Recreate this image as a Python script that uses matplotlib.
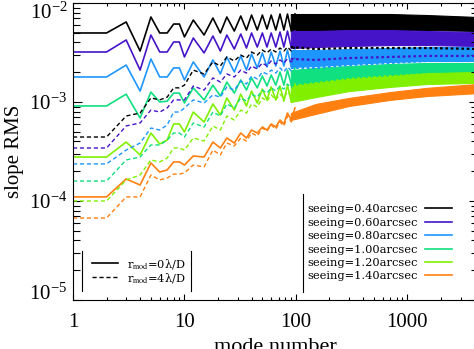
import numpy as np
import matplotlib
matplotlib.use('Agg')
import matplotlib.pyplot as plt
from matplotlib.lines import Line2D
from matplotlib.ticker import FuncFormatter

plt.rcParams['font.family'] = ['Liberation Serif', 'DejaVu Serif']
plt.rcParams['mathtext.fontset'] = 'stix'

MODES = [1, 2, 3, 4, 5, 6, 7, 8, 9, 10, 12, 15, 18, 21, 24, 28, 32, 36, 40, 45, 50, 55, 60,
         66, 72, 78, 84, 91, 98]
BAND_MODES = [90, 150, 300, 700, 1500, 4300]

SEEING = [0.40, 0.60, 0.80, 1.00, 1.20, 1.40]
COLORS = ['#000000', '#4614c8', '#1e96ff', '#10e080', '#80f000', '#ff8010']

# r_mod = 0 lambda/D (solid)
RMOD0_040 = [4.98e-3, 4.98e-3, 6.43e-3, 3.27e-3, 7.22e-3, 4.98e-3, 4.98e-3, 6.13e-3, 6.13e-3, 4.54e-3, 6.73e-3, 4.75e-3,
             7.05e-3, 4.98e-3, 7.22e-3, 5.21e-3, 7.39e-3, 5.33e-3, 7.56e-3, 5.33e-3, 7.56e-3, 5.46e-3, 7.56e-3,
             5.33e-3, 7.74e-3, 5.33e-3, 7.74e-3, 5.21e-3, 7.74e-3]
RMOD0_060 = [3.20e-3, 3.20e-3, 4.23e-3, 2.10e-3, 4.75e-3, 3.20e-3, 3.20e-3, 4.04e-3, 4.04e-3, 2.85e-3, 4.43e-3, 3.13e-3,
             4.64e-3, 3.27e-3, 4.75e-3, 3.43e-3, 4.86e-3, 3.51e-3, 4.98e-3, 3.59e-3, 4.98e-3, 3.59e-3, 4.98e-3,
             3.59e-3, 5.09e-3, 3.59e-3, 5.21e-3, 3.51e-3, 5.21e-3]
RMOD0_080 = [1.79e-3, 1.79e-3, 2.36e-3, 1.29e-3, 2.72e-3, 1.79e-3, 1.79e-3, 2.21e-3, 2.21e-3, 1.67e-3, 2.54e-3, 1.79e-3,
             2.66e-3, 1.92e-3, 2.85e-3, 2.01e-3, 2.92e-3, 2.10e-3, 3.05e-3, 2.21e-3, 3.13e-3, 2.26e-3, 3.20e-3,
             2.31e-3, 3.27e-3, 2.31e-3, 3.35e-3, 2.26e-3, 3.35e-3]
RMOD0_100 = [9.12e-4, 9.12e-4, 1.20e-3, 6.90e-4, 1.26e-3, 1.00e-3, 1.02e-3, 1.23e-3, 1.23e-3, 9.77e-4, 1.39e-3, 1.05e-3,
             1.48e-3, 1.15e-3, 1.59e-3, 1.23e-3, 1.67e-3, 1.32e-3, 1.75e-3, 1.39e-3, 1.83e-3, 1.45e-3, 1.87e-3,
             1.48e-3, 2.01e-3, 1.48e-3, 2.10e-3, 1.48e-3, 2.21e-3]
RMOD0_120 = [2.78e-4, 2.78e-4, 3.94e-4, 2.92e-4, 4.86e-4, 3.77e-4, 4.13e-4, 6.00e-4, 6.00e-4, 4.98e-4, 7.92e-4, 6.28e-4,
             9.55e-4, 7.39e-4, 1.10e-3, 8.30e-4, 1.20e-3, 9.12e-4, 1.29e-3, 9.77e-4, 1.35e-3, 1.05e-3, 1.42e-3,
             1.05e-3, 1.45e-3, 1.02e-3, 1.48e-3, 1.00e-3, 1.52e-3]
RMOD0_140 = [1.10e-4, 1.10e-4, 1.67e-4, 1.45e-4, 2.42e-4, 1.96e-4, 2.06e-4, 2.48e-4, 2.48e-4, 2.31e-4, 2.85e-4, 2.78e-4,
             3.94e-4, 3.43e-4, 4.33e-4, 3.85e-4, 4.86e-4, 4.33e-4, 5.21e-4, 4.86e-4, 5.59e-4, 5.21e-4, 6.00e-4,
             5.59e-4, 6.58e-4, 6.00e-4, 7.74e-4, 6.58e-4, 8.70e-4]

# r_mod = 4 lambda/D (dashed)
RMOD4_040 = [4.43e-4, 4.43e-4, 7.22e-4, 7.74e-4, 1.10e-3, 1.05e-3, 1.12e-3, 1.39e-3, 1.39e-3, 1.48e-3, 2.10e-3, 1.92e-3,
             2.54e-3, 2.31e-3, 2.85e-3, 2.60e-3, 2.98e-3, 2.78e-3, 3.20e-3, 2.98e-3, 3.35e-3, 3.13e-3, 3.43e-3,
             3.20e-3, 3.51e-3, 3.27e-3, 3.59e-3, 3.27e-3, 3.59e-3]
RMOD4_060 = [3.43e-4, 3.43e-4, 5.73e-4, 6.14e-4, 8.30e-4, 7.92e-4, 8.70e-4, 1.05e-3, 1.05e-3, 1.05e-3, 1.45e-3, 1.32e-3,
             1.75e-3, 1.59e-3, 1.92e-3, 1.79e-3, 2.10e-3, 1.96e-3, 2.31e-3, 2.16e-3, 2.48e-3, 2.31e-3, 2.60e-3,
             2.42e-3, 2.66e-3, 2.48e-3, 2.72e-3, 2.54e-3, 2.78e-3]
RMOD4_080 = [2.37e-4, 2.37e-4, 3.27e-4, 3.85e-4, 5.46e-4, 5.21e-4, 5.86e-4, 7.92e-4, 7.92e-4, 8.70e-4, 1.05e-3, 9.77e-4,
             1.18e-3, 1.12e-3, 1.42e-3, 1.32e-3, 1.63e-3, 1.52e-3, 1.83e-3, 1.71e-3, 2.01e-3, 1.92e-3, 2.10e-3,
             1.96e-3, 2.21e-3, 2.01e-3, 2.26e-3, 2.06e-3, 2.31e-3]
RMOD4_100 = [1.59e-4, 1.59e-4, 2.60e-4, 2.78e-4, 3.68e-4, 3.68e-4, 4.13e-4, 4.86e-4, 4.86e-4, 4.43e-4, 6.14e-4, 5.59e-4,
             7.92e-4, 7.22e-4, 9.55e-4, 8.70e-4, 1.10e-3, 1.02e-3, 1.20e-3, 1.12e-3, 1.32e-3, 1.23e-3, 1.39e-3,
             1.29e-3, 1.45e-3, 1.35e-3, 1.52e-3, 1.39e-3, 1.59e-3]
RMOD4_120 = [1.00e-4, 1.00e-4, 1.63e-4, 1.83e-4, 2.60e-4, 2.48e-4, 2.72e-4, 3.43e-4, 3.43e-4, 3.27e-4, 4.33e-4, 4.04e-4,
             5.73e-4, 5.21e-4, 7.22e-4, 6.58e-4, 8.30e-4, 7.74e-4, 9.55e-4, 8.90e-4, 1.10e-3, 1.02e-3, 1.18e-3,
             1.05e-3, 1.20e-3, 1.10e-3, 1.26e-3, 1.15e-3, 1.32e-3]
RMOD4_140 = [6.73e-5, 6.73e-5, 1.10e-4, 1.10e-4, 1.83e-4, 1.63e-4, 1.71e-4, 1.87e-4, 1.87e-4, 1.92e-4, 2.31e-4, 2.21e-4,
             3.27e-4, 2.92e-4, 3.85e-4, 3.60e-4, 4.33e-4, 4.04e-4, 4.86e-4, 4.54e-4, 5.46e-4, 5.09e-4, 5.86e-4,
             5.33e-4, 6.28e-4, 5.73e-4, 7.22e-4, 6.28e-4, 7.92e-4]

# high-order noisy band of the solid curves: upper / lower edges
BAND0_HI = [
    [7.74e-3, 7.74e-3, 7.74e-3, 7.74e-3, 7.56e-3, 7.22e-3],
    [5.21e-3, 5.21e-3, 5.33e-3, 5.33e-3, 5.21e-3, 5.09e-3],
    [3.35e-3, 3.35e-3, 3.43e-3, 3.51e-3, 3.59e-3, 3.59e-3],
    [2.10e-3, 2.21e-3, 2.31e-3, 2.42e-3, 2.48e-3, 2.48e-3],
    [1.48e-3, 1.59e-3, 1.75e-3, 1.87e-3, 1.96e-3, 2.01e-3],
    [7.74e-4, 9.55e-4, 1.10e-3, 1.26e-3, 1.39e-3, 1.52e-3],
]
BAND0_LO = [
    [5.21e-3, 5.21e-3, 5.33e-3, 5.33e-3, 5.33e-3, 5.21e-3],
    [3.51e-3, 3.59e-3, 3.68e-3, 3.76e-3, 3.76e-3, 3.68e-3],
    [2.26e-3, 2.31e-3, 2.42e-3, 2.54e-3, 2.60e-3, 2.60e-3],
    [1.48e-3, 1.52e-3, 1.71e-3, 1.83e-3, 1.92e-3, 1.96e-3],
    [1.00e-3, 1.12e-3, 1.29e-3, 1.42e-3, 1.52e-3, 1.56e-3],
    [6.58e-4, 7.57e-4, 9.12e-4, 1.05e-3, 1.15e-3, 1.23e-3],
]
# high-order part of the dashed curves
HIGH4 = [
    [3.59e-3, 3.43e-3, 3.51e-3, 3.51e-3, 3.51e-3, 3.43e-3],
    [2.72e-3, 2.66e-3, 2.78e-3, 2.85e-3, 2.92e-3, 2.92e-3],
    [2.21e-3, 2.21e-3, 2.36e-3, 2.48e-3, 2.60e-3, 2.60e-3],
    [1.48e-3, 1.59e-3, 1.75e-3, 1.87e-3, 2.01e-3, 2.10e-3],
    [1.23e-3, 1.32e-3, 1.45e-3, 1.59e-3, 1.71e-3, 1.79e-3],
    [6.90e-4, 7.92e-4, 9.55e-4, 1.12e-3, 1.26e-3, 1.35e-3],
]

RMOD0 = [RMOD0_040, RMOD0_060, RMOD0_080, RMOD0_100, RMOD0_120, RMOD0_140]
RMOD4 = [RMOD4_040, RMOD4_060, RMOD4_080, RMOD4_100, RMOD4_120, RMOD4_140]

DASH = (0, (3, 2))

fig = plt.figure(figsize=(4.74, 3.49), dpi=100)
ax = fig.add_axes([0.154, 0.1404, 0.8544, 0.851])

for i, c in enumerate(COLORS):
    ax.plot(MODES, RMOD0[i], color=c, lw=1.2)
    ax.fill_between(BAND_MODES, BAND0_LO[i], BAND0_HI[i], color=c, lw=0.8)
for i, c in enumerate(COLORS):
    ax.plot(MODES, RMOD4[i], color=c, lw=1.0, ls=DASH)
    ax.plot(BAND_MODES, HIGH4[i], color=c, lw=1.6, ls=(0, (1.2, 1.2)))

ax.set_xscale('log')
ax.set_yscale('log')
ax.set_xlim(1, 4300)
ax.set_ylim(1e-5, 1e-2)
ax.xaxis.set_major_formatter(FuncFormatter(lambda v, p: f'{v:g}'))

ax.tick_params(which='both', direction='in', top=True, right=True, width=0.8)
ax.tick_params(axis='x', which='major', length=4.5, labelsize=15, pad=9)
ax.tick_params(axis='x', which='minor', length=2.5)
ax.tick_params(axis='y', which='major', length=6.5, labelsize=15, pad=4)
ax.tick_params(axis='y', which='minor', length=5)
for s in ax.spines.values():
    s.set_linewidth(0.8)

ax.set_xlabel('mode number', fontsize=16, labelpad=5)
ax.set_ylabel('slope RMS', fontsize=15, labelpad=4)

# legends
leg_font = {'family': 'DejaVu Serif', 'size': 8.2}
h1 = [Line2D([], [], color=c, lw=1.2) for c in COLORS]
lab1 = [f'seeing={s:.2f}arcsec' for s in SEEING]
leg1 = ax.legend(h1, lab1, loc='upper left', bbox_to_anchor=(0.578, 0.322), frameon=False,
                 markerfirst=False, prop=leg_font, handlelength=2.3, handletextpad=0.7,
                 labelspacing=0.3, borderpad=0, borderaxespad=0)
ax.add_artist(leg1)

h2 = [Line2D([], [], color='k', lw=1.2), Line2D([], [], color='k', lw=1.0, ls=DASH)]
lab2 = [r'r$_{\rm mod}$=0λ/D', r'r$_{\rm mod}$=4λ/D']
leg2 = ax.legend(h2, lab2, loc='upper left', bbox_to_anchor=(0.047, 0.146), frameon=False,
                 prop=leg_font, handlelength=2.3, handletextpad=0.8, labelspacing=0.0,
                 borderpad=0, borderaxespad=0)

fig.canvas.draw()
# top / bottom y labels sit inside the frame, as in the original
for t in ax.yaxis.get_major_ticks():
    v = t.get_loc()
    if np.isclose(v, 1e-2):
        t.label1.set_verticalalignment('top')
    elif np.isclose(v, 1e-5):
        t.label1.set_verticalalignment('baseline')

# vertical rules beside the legends, placed from their drawn extents
inv = ax.transAxes.inverted()
bb1 = leg1.get_window_extent().transformed(inv)
ax.plot([bb1.x0 - 0.01] * 2, [bb1.y0 - 0.035, bb1.y1 + 0.035], color='k', lw=0.8,
        transform=ax.transAxes, clip_on=False)
bb2 = leg2.get_window_extent().transformed(inv)
for xx in (bb2.x0 - 0.025, bb2.x1 + 0.012):
    ax.plot([xx] * 2, [bb2.y0 - 0.02, bb2.y1 + 0.02], color='k', lw=0.8,
            transform=ax.transAxes, clip_on=False)

fig.savefig('out.png', dpi=100)
